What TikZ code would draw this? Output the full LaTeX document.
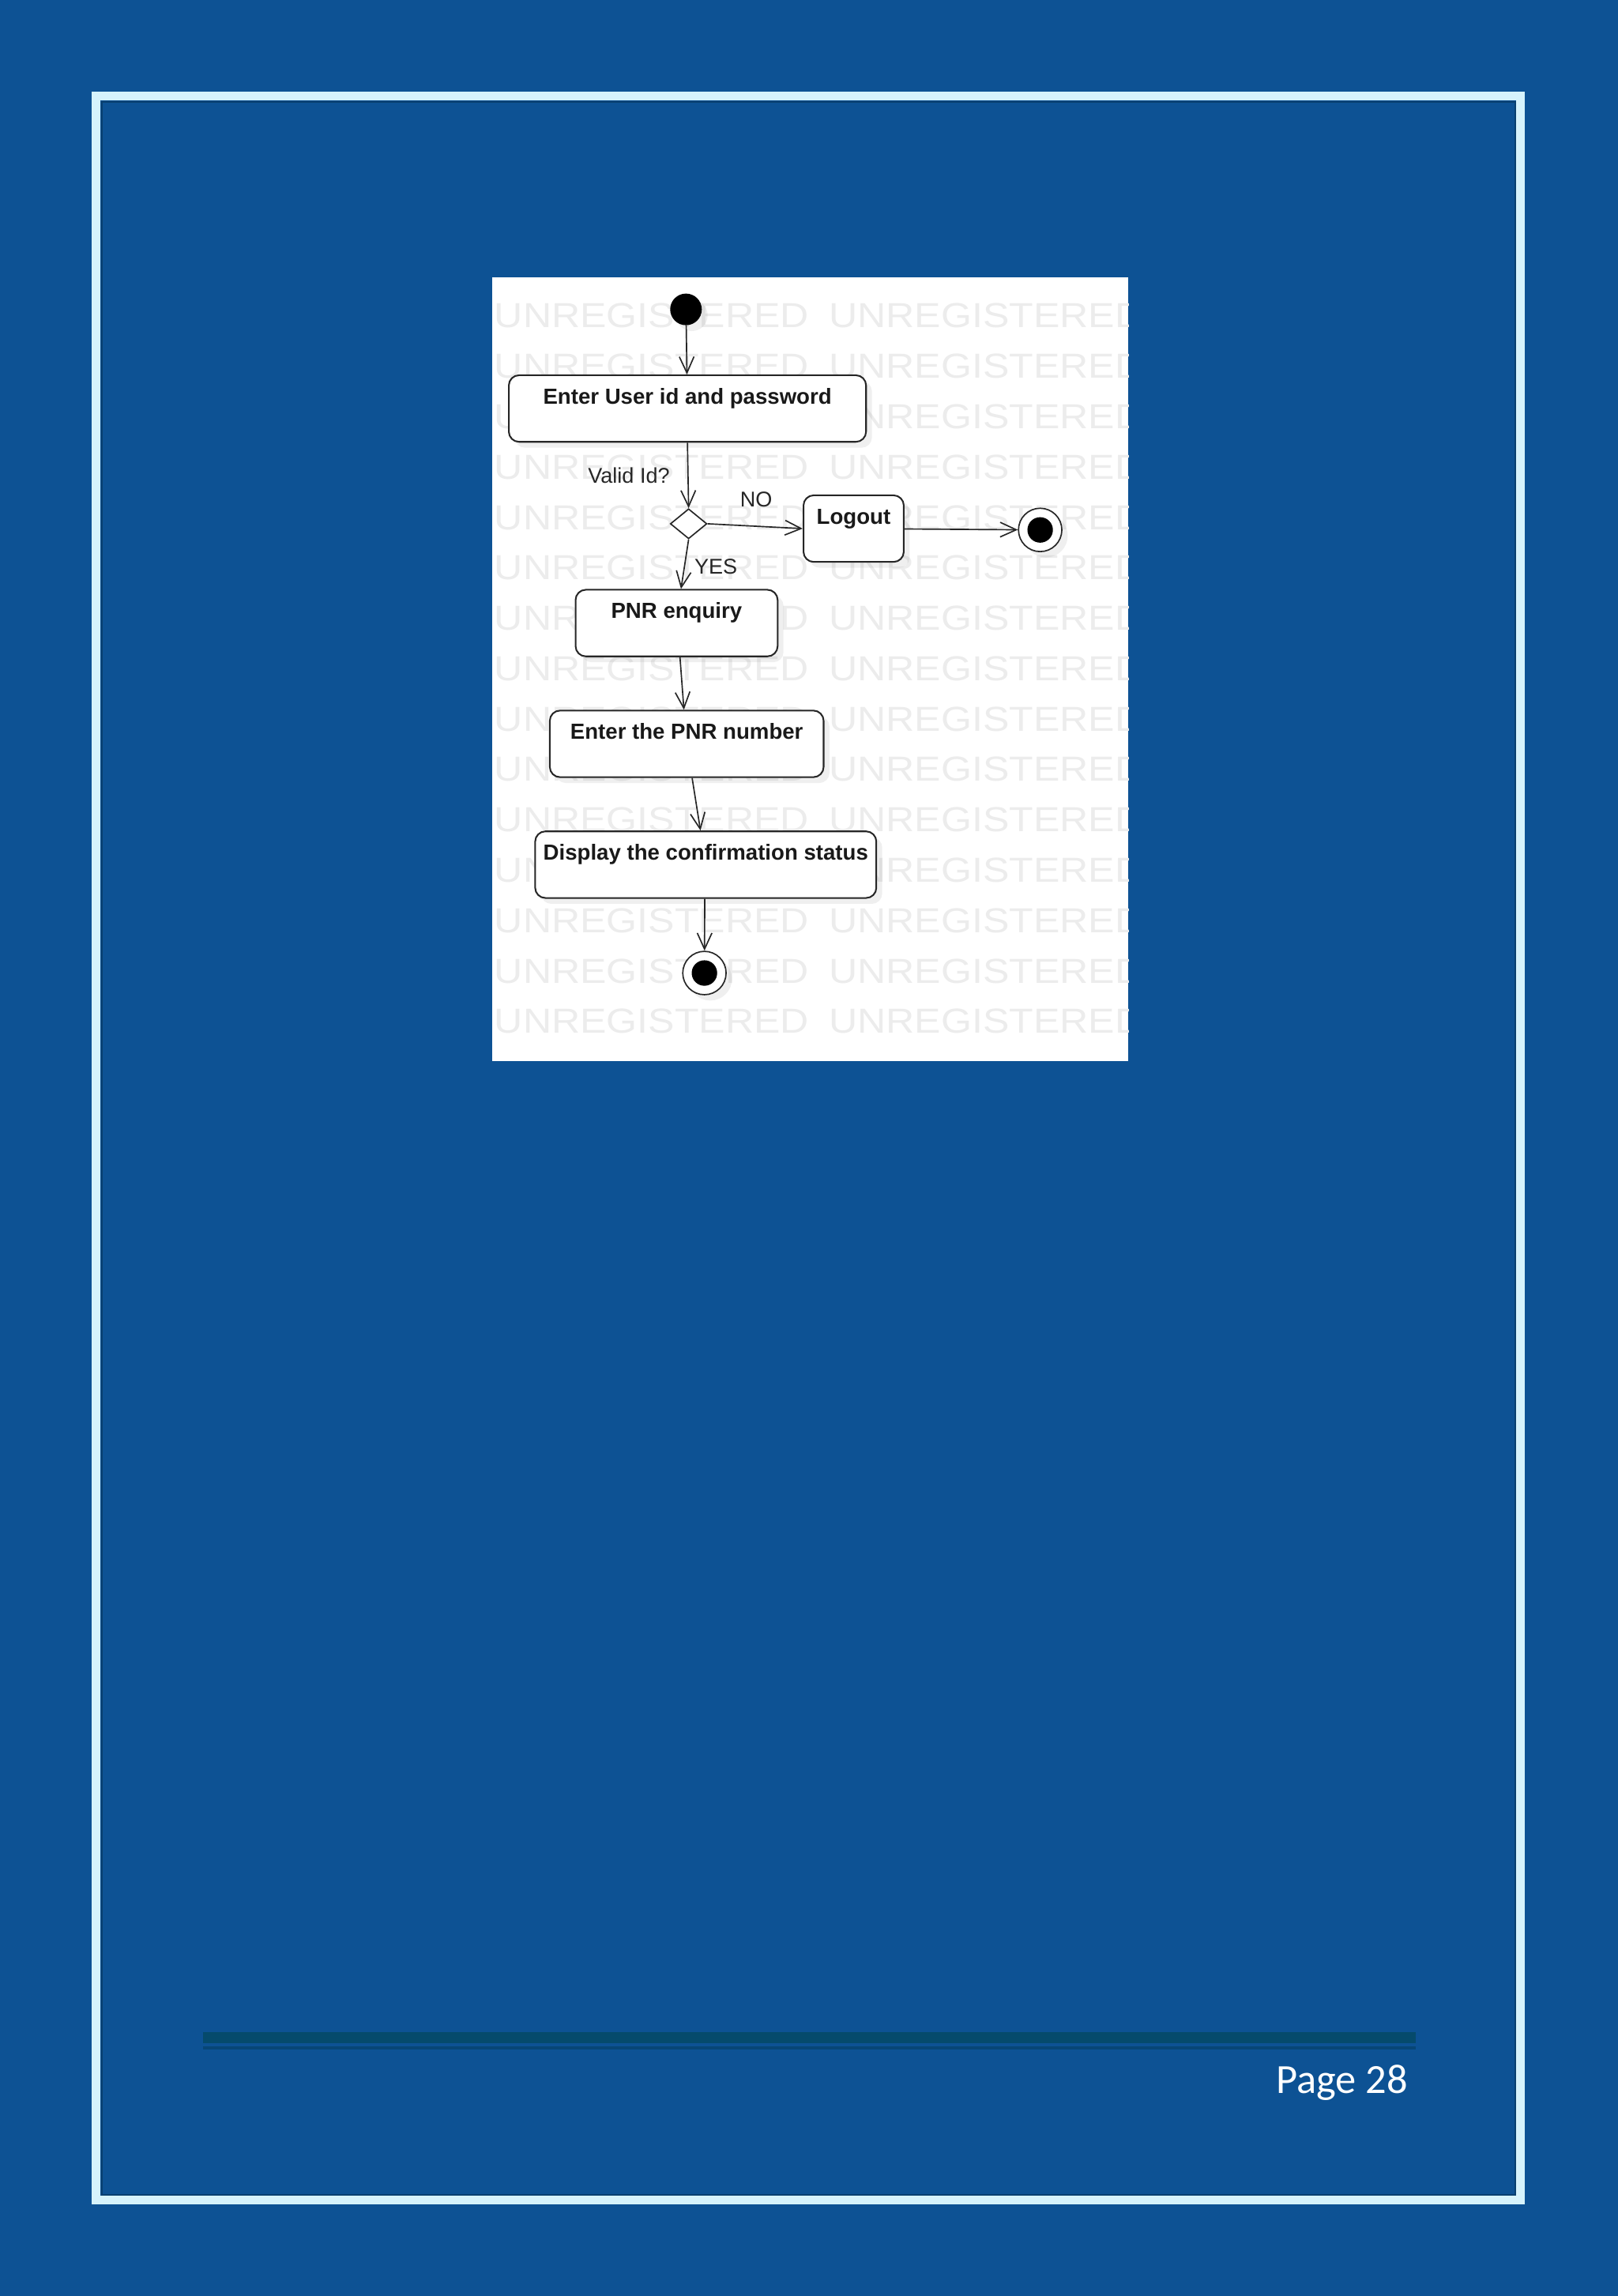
\documentclass[tikz,border=0pt]{standalone}
\usepackage{fontspec}
\newfontfamily\umlfont{Liberation Sans}
\newfontfamily\wmfont[FakeStretch=1.14]{Liberation Sans}
\newfontfamily\pagefont{Carlito}
\usetikzlibrary{arrows.meta,shapes.geometric,shadows}

\definecolor{pageblue}{RGB}{13,82,148}
\definecolor{framecyan}{RGB}{214,243,252}
\definecolor{frameshade}{RGB}{9,64,112}
\definecolor{rulebar}{RGB}{5,74,108}
\definecolor{ruleline}{RGB}{7,70,118}
\definecolor{wmgray}{RGB}{236,236,236}

\tikzset{
  activity/.style={draw=black!85, line width=1.1pt, rounded corners=7pt, fill=white,
    font=\umlfont\bfseries\fontsize{14.9}{16}\selectfont, text=black!90,
    inner xsep=0pt, inner ysep=0pt, text height=19.5pt, text depth=26pt,
    drop shadow={opacity=0.12, shadow xshift=4pt, shadow yshift=-4pt}},
  start/.style={circle, fill=black, minimum size=21.6pt, inner sep=0pt,
    drop shadow={opacity=0.12, shadow xshift=4pt, shadow yshift=-4pt}},
  finish/.style={circle, draw=black!85, line width=0.9pt, fill=white,
    minimum size=29.6pt, inner sep=0pt,
    drop shadow={opacity=0.12, shadow xshift=4pt, shadow yshift=-4pt},
    path picture={\fill[black] (path picture bounding box.center) circle (8.7pt);}},
  decision/.style={diamond, draw=black!85, line width=0.9pt, fill=white,
    minimum width=25pt, minimum height=20.5pt, inner sep=0pt},
  flow/.style={draw=black!85, line width=0.9pt,
    -{Straight Barb[length=11pt,width=10pt,line width=0.9pt]}},
  guard/.style={font=\umlfont\fontsize{14.6}{16}\selectfont, text=black!85,
    anchor=base, inner sep=0pt},
  watermark/.style={font=\wmfont\fontsize{23.7}{25}\selectfont, text=wmgray,
    anchor=base west, inner sep=0pt},
  pagenum/.style={font=\pagefont\fontsize{28.3}{30}\selectfont, text=white,
    anchor=base west, inner sep=0pt}
}

\begin{document}
\begin{tikzpicture}[x=1pt,y=-1pt]
% Page
\fill[pageblue] (0,0) rectangle (1105,1568);
\useasboundingbox (0,0) rectangle (1105,1568);
\draw[framecyan, line width=5.9pt] (65.8,65.8) rectangle (1038.6,1502.4);
\draw[frameshade, line width=1.2pt] (69.4,69.4) rectangle (1035,1498.8);

% Diagram panel
\fill[white] (336,189.4) rectangle (770.6,724.8);

% Watermark
\begin{scope}
\clip (336,189.4) rectangle (770.6,724.8);
\foreach \r in {0,...,14}
  \foreach \c in {0,1}
    \node[watermark] (wm\r\c) at (337.5+228.5*\c, 223.9+34.41*\r) {UNREGISTERED};
\end{scope}

% Activities
\node[start] (start) at (468.5,211.3) {};
\node[activity, minimum width=244pt] (login) at (469.5,279) {Enter User id and password};
\node[decision] (valid) at (470.3,357.7) {};
\node[activity, minimum width=68.5pt] (logout) at (583,361) {Logout};
\node[finish] (stop1) at (710.4,361.9) {};
\node[activity, minimum width=138pt] (pnr) at (462.1,425.5) {PNR enquiry};
\node[activity, minimum width=187pt] (pnrnum) at (469,508) {Enter the PNR number};
\node[activity, minimum width=233pt] (status) at (482,590.5) {Display the confirmation status};
\node[finish] (stop2) at (481.1,664.5) {};

% Guards
\node[guard] (validlbl) at (429.5,330) {Valid Id?};
\node[guard] (nolbl) at (516.5,346) {NO};
\node[guard] (yeslbl) at (488.9,392) {YES};

% Flows
\draw[flow] (start) -- (login);
\draw[flow] (login.south) -- (valid.north);
\draw[flow] (valid.east) -- (logout.west);
\draw[flow] (logout) -- (stop1);
\draw[flow] (valid.south) -- ([xshift=3pt]pnr.north);
\draw[flow] ([xshift=2.3pt]pnr.south) -- ([xshift=-1.9pt]pnrnum.north);
\draw[flow] ([xshift=3.7pt]pnrnum.south) -- ([xshift=-3.6pt]status.north);
\draw[flow] ([xshift=-0.7pt]status.south) -- (stop2);

% Footer
\draw[rulebar, line width=7.6pt] (138.7,1391.5) -- (967,1391.5);
\draw[ruleline, line width=2pt] (138.7,1398.5) -- (967,1398.5);
\node[pagenum] (pageno) at (871.4,1429.8) {Page 28};
\end{tikzpicture}
\end{document}
